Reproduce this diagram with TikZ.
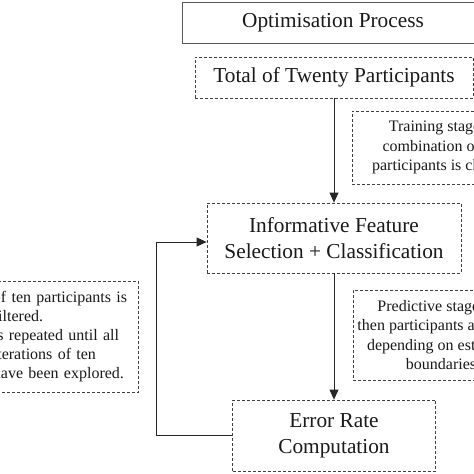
\documentclass[tikz,border=0pt]{standalone}
\usepackage{fontspec}
\setmainfont{Liberation Serif}
\usetikzlibrary{arrows.meta}
\begin{document}
\begin{tikzpicture}[x=1pt,y=-1pt,
  box/.style={draw=black!75, line width=0.8pt, dash pattern=on 3pt off 2pt, inner sep=0pt, align=center, text=black!90, font=\fontsize{21.3}{26}\selectfont},
  solidbox/.style={draw=black!65, line width=0.9pt, inner sep=0pt, align=center, text=black!90, font=\fontsize{21.3}{26}\selectfont},
  notebox/.style={draw=black!75, line width=0.8pt, dash pattern=on 3pt off 2pt, inner sep=0pt, align=center, text=black!90, font=\fontsize{16}{19.2}\selectfont},
  arr/.style={-{Triangle[length=10pt,width=9pt]}, line width=0.8pt, draw=black!85}]
\useasboundingbox (0,0) rectangle (474,474);
\clip (0,0) rectangle (474,474);
\node[solidbox, minimum width=302pt, minimum height=41pt] (opt) at (333,22.5) {Optimisation Process};
\node[box, minimum width=278pt, minimum height=41pt] (total) at (334,77.5) {Total of Twenty Participants};
\node[notebox, minimum width=182pt, minimum height=73pt] (train) at (443,147.5) {Training stage: a\\combination of ten\\participants is chosen.};
\node[box, minimum width=254pt, minimum height=70pt] (info) at (334,238) {Informative Feature\\Selection + Classification};
\node[notebox, minimum width=180pt, minimum height=90pt] (pred) at (443,335) {Predictive stage: ten\\then participants are tested\\depending on estimated\\boundaries.};
\node[notebox, align=left, text width=139.5pt, inner sep=6pt, minimum height=111pt, anchor=west] (filt) at (-13.5,336.5) {of ten participants is\\filtered.\\is repeated until all\\iterations of ten\\have been explored.};
\node[box, minimum width=203pt, minimum height=71pt] (err) at (334,435.5) {Error Rate\\Computation};
\draw[arr] (total) -- (info);
\draw[arr] (info) -- (err);
\draw[arr] (err.west) -- ++(-75.5,0) |- ([yshift=-4pt]info.west);
\end{tikzpicture}
\end{document}
